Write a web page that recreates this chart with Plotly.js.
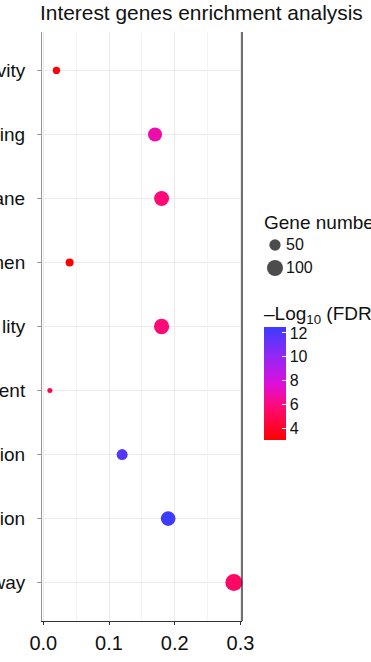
<!DOCTYPE html>
<html><head><meta charset="utf-8">
<script src="https://cdn.plot.ly/plotly-3.0.1.min.js"></script>
<style>html,body{margin:0;padding:0;overflow:hidden;background:#fff}</style>
</head><body><div id="chart" style="width:371px;height:662px"></div>
<script>
const termLabels = ["vity","ing","ane","men","lity","ent","ion","ion","way"];
const geneRatio = [0.02,0.17,0.18,0.04,0.18,0.01,0.12,0.19,0.29];
const geneNumber = [21,77,88,25,91,10,47,84,113];
const negLog10FDR = [3.3,6.8,5.8,3.0,5.8,4.8,11.8,12.5,5.4];
const legendGeneNumbers = [50,100];
const legendGeneLabels = ["50","100"];
const xTickVals = [0,0.1,0.2,0.3];
const xTickText = ["0.0","0.1","0.2","0.3"];
const colorTicks = [4,6,8,10,12];

const W = 371, H = 662, ML = 42, MR = 0, MT = 32, MB = 41;
const PW = W - ML - MR, PH = H - MT - MB;
const px2x = v => (v - ML) / PW;
const px2y = v => (H - MB - v) / PH;
const sizeOf = n => 1.6 * Math.sqrt(n);
const rows = termLabels.map((_, i) => i);
const keyRows = legendGeneNumbers.map((_, i) => i);
const FONT = "Liberation Sans, Arial, Helvetica, sans-serif";

const colorscale = [
  [0, '#FF0000'], [0.3, '#FF0A78'], [0.5, '#DC10DC'], [0.75, '#9028F5'], [1, '#3C3CFF']
];

const main = {
  type: 'scatter', mode: 'markers',
  x: geneRatio, y: rows, cliponaxis: false, hoverinfo: 'skip',
  marker: {
    size: geneNumber.map(sizeOf), color: negLog10FDR, colorscale: colorscale,
    line: {width: 0}, opacity: 1, showscale: true,
    colorbar: {
      x: px2x(264), xanchor: 'left', xpad: 0, xref: 'paper',
      y: px2y(327), yanchor: 'top', ypad: 0, yref: 'paper',
      len: 113, lenmode: 'pixels', thickness: 22, outlinewidth: 0,
      tickvals: colorTicks, ticks: 'inside', tickcolor: 'white', ticklen: 4,
      tickfont: {size: 16, color: '#111', family: FONT}
    }
  }
};

const keyMarks = {
  type: 'scatter', mode: 'markers', xaxis: 'x2', yaxis: 'y2',
  x: legendGeneNumbers.map(() => 0.5), y: keyRows, cliponaxis: false, hoverinfo: 'skip',
  marker: {size: legendGeneNumbers.map(sizeOf), color: '#000', line: {width: 0}}
};

const keyText = {
  type: 'scatter', mode: 'text', xaxis: 'x2', yaxis: 'y2',
  x: legendGeneNumbers.map(() => 1.05), y: keyRows.map(v => v + 0.06), text: legendGeneLabels,
  textposition: 'middle right', cliponaxis: false, hoverinfo: 'skip',
  textfont: {size: 16, color: '#111', family: FONT}
};

const layout = {
  width: W, height: H,
  margin: {l: ML, r: MR, t: MT, b: MB, pad: 0, autoexpand: false},
  paper_bgcolor: '#fff', plot_bgcolor: '#fff',
  font: {family: FONT, color: '#111'},
  showlegend: false, hovermode: false,
  title: {text: 'Interest genes enrichment analysis', xref: 'container', x: 40/W, xanchor: 'left',
          yref: 'container', y: 1 - 12.5/H, yanchor: 'middle', font: {size: 20.9, color: '#111', family: FONT}},
  xaxis: {
    domain: [0, 200/PW], range: [-0.002, 0.3024], tickvals: xTickVals, ticktext: xTickText,
    ticks: 'outside', ticklen: 3, tickcolor: '#333', showline: true, linecolor: '#333', linewidth: 1,
    showgrid: true, gridcolor: '#EBEBEB', zeroline: false,
    minor: {tick0: 0, dtick: 0.05, showgrid: true, gridcolor: '#F4F4F4', ticks: ''},
    tickfont: {size: 20, color: '#111', family: FONT}, ticklabelstandoff: 1, anchor: 'y'
  },
  yaxis: {
    range: [8.6, -0.6], tickvals: rows, ticktext: termLabels,
    ticks: 'outside', ticklen: 4, tickcolor: '#999', showline: true, linecolor: '#999', linewidth: 1,
    showgrid: true, gridcolor: '#EBEBEB', zeroline: false,
    tickfont: {size: 19, color: '#111', family: FONT}, ticklabelstandoff: 8, anchor: 'x'
  },
  xaxis2: {domain: [px2x(265), px2x(305)], range: [0, 2], visible: false, anchor: 'y2', fixedrange: true},
  yaxis2: {domain: [px2y(280), px2y(233)], range: [1.522, -0.522], visible: false, anchor: 'x2', fixedrange: true},
  annotations: [
    {text: 'Gene number', xref: 'paper', yref: 'paper', x: px2x(262), y: px2y(222),
     xanchor: 'left', yanchor: 'middle', showarrow: false, font: {size: 19, color: '#111', family: FONT}},
    {text: '\u2013Log<sub>10</sub> (FDR)', xref: 'paper', yref: 'paper', x: px2x(262), y: px2y(315),
     xanchor: 'left', yanchor: 'middle', showarrow: false, font: {size: 19, color: '#111', family: FONT}}
  ],
  shapes: [{type: 'line', xref: 'x domain', yref: 'y domain', x0: 1, x1: 1, y0: 0, y1: 1,
    line: {color: '#222', width: 1.3}}]
};

Plotly.newPlot('chart', [main, keyMarks, keyText], layout, {displayModeBar: false, staticPlot: true});
</script></body></html>
